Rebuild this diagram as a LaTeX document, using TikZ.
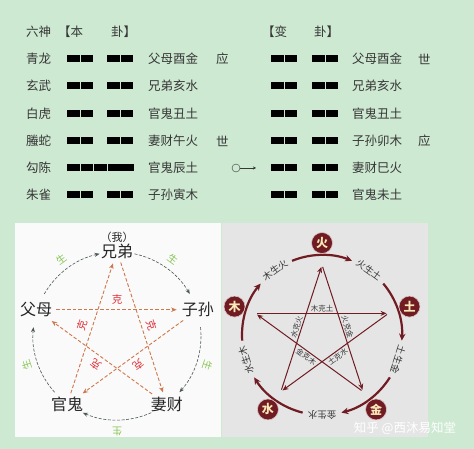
\documentclass[tikz,border=0pt]{standalone}
\usepackage{fontspec}
\setmainfont{Noto Sans CJK SC}
\usetikzlibrary{arrows.meta,positioning}

\definecolor{pagegreen}{RGB}{205,233,210}
\definecolor{inkgray}{RGB}{55,55,55}
\definecolor{shenggreen}{RGB}{135,198,85}
\definecolor{arcgray}{RGB}{75,90,80}
\definecolor{kered}{RGB}{222,50,58}
\definecolor{keline}{RGB}{205,120,75}
\definecolor{xingred}{RGB}{112,28,34}
\definecolor{cream}{RGB}{250,232,185}
\definecolor{panelgray}{RGB}{229,229,229}
\definecolor{panelwhite}{RGB}{250,250,250}

\begin{document}
\begin{tikzpicture}[x=1pt, y=1pt,
  rowtext/.style={anchor=west, inner sep=0pt, text=inkgray,
    font=\fontsize{12.5}{13}\selectfont},
  yaobar/.style={fill=black},
  liuqin/.style={inner sep=2pt, text=black!85, font=\fontsize{16}{17}\selectfont},
  shengarc/.style={arcgray, semithick, dash pattern=on 3pt off 1.6pt,
    -{Stealth[length=5pt, width=4pt]}},
  shenglabel/.style={inner sep=0pt, text=shenggreen, font=\fontsize{10}{10}\selectfont},
  kearrow/.style={keline, line width=0.9pt, dash pattern=on 3.5pt off 2pt,
    -{Stealth[length=5.5pt, width=4.5pt]}, shorten >=3pt, shorten <=2pt},
  kelabel/.style={inner sep=0pt, text=kered, font=\fontsize{10.5}{11}\selectfont},
  xingball/.style={circle, fill=xingred, draw=white!75!xingred, line width=0.6pt,
    minimum size=21pt, inner sep=0pt, text=cream, font=\fontsize{12}{12}\selectfont\bfseries},
  xingarc/.style={xingred, line width=2.2pt, -{Stealth[length=7pt, width=6.5pt]}},
  xinglabel/.style={inner sep=0pt, text=inkgray, font=\fontsize{9.5}{10}\selectfont},
  xingke/.style={xingred, line width=1pt, -{Stealth[length=6pt, width=5pt]},
    shorten >=2pt, shorten <=2pt},
  kesmall/.style={inner sep=1.2pt, text=inkgray, font=\fontsize{7.5}{8}\selectfont, sloped}]

  % Page and panels
  \useasboundingbox (0,0) rectangle (474,449);
  \fill[pagegreen] (0,0) rectangle (474,449);
  \fill[panelwhite] (15,12) rectangle (221,226);
  \fill[panelgray] (222,12) rectangle (428,226);

  % Header
  \node[rowtext] (hdliu) at (26,417) {六神};
  \node[rowtext] (hdben) at (58,417) {【本};
  \node[rowtext] (hdgua) at (111,417) {卦】};
  \node[rowtext] (hdbian) at (262,417) {【变};
  \node[rowtext] (hdgua2) at (314,417) {卦】};

  % Rows
  \foreach \y/\shen/\ben/\bian [count=\r] in {390/青龙/父母酉金/父母酉金,
      363/玄武/兄弟亥水/兄弟亥水, 335/白虎/官鬼丑土/官鬼丑土,
      308/螣蛇/妻财午火/子孙卯木, 281/勾陈/官鬼辰土/妻财巳火,
      254/朱雀/子孙寅木/官鬼未土} {
    \node[rowtext] (shen\r) at (26,\y) {\shen};
    \node[rowtext] (ben\r) at (148,\y) {\ben};
    \node[rowtext] (bian\r) at (352,\y) {\bian};
  }
  \node[rowtext] (ying1) at (216,390) {应};
  \node[rowtext] (shi1) at (216,308) {世};
  \node[rowtext] (shi2) at (418,390) {世};
  \node[rowtext] (ying2) at (418,308) {应};

  % Yao lines
  \foreach \y in {390,363,335,308,254}
    \foreach \x in {67,80.6,107,120.6}
      \fill[yaobar] (\x,\y-3.5) rectangle ++(12.8,7);
  \foreach \x in {67,80.6,94.2,107.8,121.4}
    \fill[yaobar] (\x,277.5) rectangle ++(12.8,7);
  \foreach \y in {390,363,335,308,281,254}
    \foreach \x in {271,284.6,312,325.6}
      \fill[yaobar] (\x,\y-3.5) rectangle ++(12.8,7);

  % Moving line
  \node[circle, draw=inkgray, minimum size=8pt, inner sep=0pt] (dong) at (236,281) {};
  \coordinate (dongto) at (256,281);
  \draw[inkgray, -{Stealth[length=3pt, width=3pt]}] (dong) -- (dongto);

  % Liuqin circle
  \coordinate (lc) at (117,113);
  \foreach \n/\a/\t in {xd/90/兄弟, zs/18/子孙, qc/-54/妻财, gg/-126/官鬼, fm/162/父母}
    \node[liuqin] (\n) at ([shift={(\a:85)}]lc) {\t};
  \node[above=-1pt of xd, inner sep=0pt, text=black!85,
    font=\fontsize{11}{11}\selectfont] (wo) {（我）};
  \foreach \a [count=\k] in {90,18,-54,-126,162} {
    \draw[shengarc] ([shift={(\a-12:84)}]lc) arc[start angle=\a-12, end angle=\a-60, radius=84];
    \node[shenglabel, rotate=\a-126] (sheng\k) at ([shift={(\a-36:95)}]lc) {生};
    \node[kelabel, rotate=\a-90] (ke\k) at ([shift={(\a:36)}]lc) {克};
  }
  \draw[kearrow] (fm) -- (zs);
  \draw[kearrow] (zs) -- (gg);
  \draw[kearrow] (gg) -- (xd);
  \draw[kearrow] (xd) -- (qc);
  \draw[kearrow] (qc) -- (fm);

  % Wuxing circle
  \coordinate (rc) at (322,114);
  \foreach \a in {90,18,-54,-126,162}
    \draw[xingarc] ([shift={(\a+22:80)}]rc) arc[start angle=\a+22, end angle=\a-22, radius=80];
  \foreach \a/\t [count=\k] in {54/火生土, -18/土生金, -90/金生水, 198/水生木, 126/木生火}
    \node[xinglabel, rotate=\a-90] (xs\k) at ([shift={(\a:80)}]rc) {\t};
  \foreach \n/\a/\t in {huo/90/火, tu/18/土, jin/-54/金, shui/-126/水, mu/162/木} {
    \node[xingball] (\n) at ([shift={(\a:92)}]rc) {\t};
    \coordinate (s\n) at ([shift={(\a:70)}]rc);
  }
  \draw[xingke] (smu) -- node[kesmall, above] {木克土} (stu);
  \draw[xingke] (shuo) -- node[kesmall, above] {火克金} (sjin);
  \draw[xingke] (stu) -- node[kesmall, below] {土克水} (sshui);
  \draw[xingke] (sshui) -- node[kesmall, above] {水克火} (shuo);
  \draw[xingke] (sjin) -- node[kesmall, below] {金克木} (smu);

  % Watermark
  \node[text=white, font=\fontsize{12.5}{13}\selectfont] (wm) at (405,21) {知乎 @西沐易知堂};
\end{tikzpicture}
\end{document}
